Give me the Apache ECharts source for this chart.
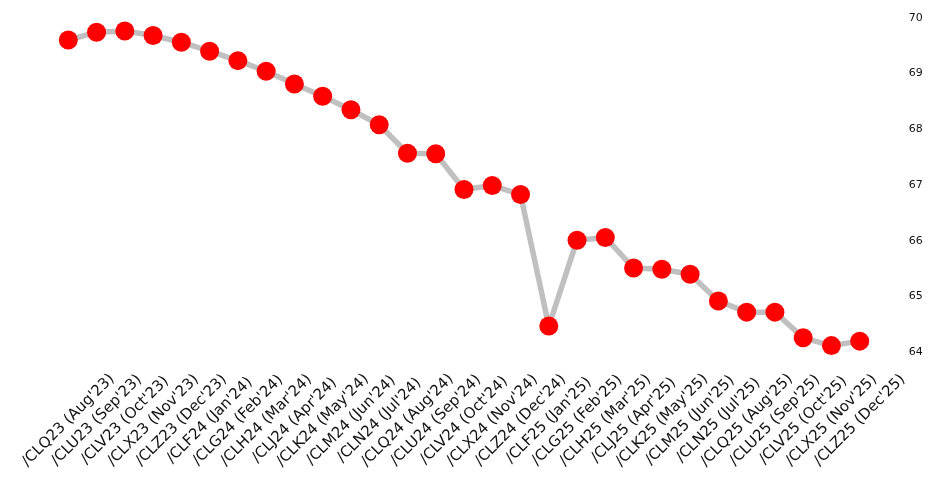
<!DOCTYPE html>
<html>
<head>
<meta charset="utf-8">
<script src="https://cdn.jsdelivr.net/npm/echarts@6/dist/echarts.min.js"></script>
<style>
html,body{margin:0;padding:0;background:#fff;}
#chart{width:933px;height:481px;}
</style>
</head>
<body>
<div id="chart"></div>
<script>
const categories = [
  "/CLQ23 (Aug'23)", "/CLU23 (Sep'23)", "/CLV23 (Oct'23)", "/CLX23 (Nov'23)", "/CLZ23 (Dec'23)",
  "/CLF24 (Jan'24)", "/CLG24 (Feb'24)", "/CLH24 (Mar'24)", "/CLJ24 (Apr'24)", "/CLK24 (May'24)",
  "/CLM24 (Jun'24)", "/CLN24 (Jul'24)", "/CLQ24 (Aug'24)", "/CLU24 (Sep'24)", "/CLV24 (Oct'24)",
  "/CLX24 (Nov'24)", "/CLZ24 (Dec'24)", "/CLF25 (Jan'25)", "/CLG25 (Feb'25)", "/CLH25 (Mar'25)",
  "/CLJ25 (Apr'25)", "/CLK25 (May'25)", "/CLM25 (Jun'25)", "/CLN25 (Jul'25)", "/CLQ25 (Aug'25)",
  "/CLU25 (Sep'25)", "/CLV25 (Oct'25)", "/CLX25 (Nov'25)", "/CLZ25 (Dec'25)"
];
const prices = [
  69.60, 69.74, 69.76, 69.68, 69.56,
  69.40, 69.23, 69.04, 68.81, 68.59,
  68.35, 68.08, 67.57, 67.56, 66.92,
  66.99, 66.83, 64.47, 66.01, 66.06,
  65.51, 65.49, 65.40, 64.92, 64.72,
  64.72, 64.26, 64.12, 64.20
];
const yMin = 64, yMax = 70, yStep = 1;

const chart = echarts.init(document.getElementById('chart'));
chart.setOption({
  animation: false,
  backgroundColor: '#ffffff',
  grid: { left: 68.3, right: 73.3, top: 17.7, bottom: 128.7, containLabel: false },
  xAxis: {
    type: 'category',
    data: categories,
    boundaryGap: false,
    axisLine: { show: false },
    axisTick: { show: false },
    splitLine: { show: false },
    axisLabel: {
      interval: 0,
      rotate: 45,
      align: 'center',
      verticalAlign: 'middle',
      margin: 68,
      hideOverlap: false,
      fontFamily: 'DejaVu Sans',
      fontSize: 15,
      color: '#111'
    }
  },
  yAxis: {
    type: 'value',
    position: 'right',
    min: yMin,
    max: yMax,
    interval: yStep,
    axisLine: { show: false },
    axisTick: { show: false },
    splitLine: { show: false },
    axisLabel: {
      margin: 49,
      align: 'left',
      fontFamily: 'DejaVu Sans',
      fontSize: 11,
      color: '#111'
    }
  },
  series: [{
    type: 'line',
    data: prices,
    clip: false,
    symbol: 'circle',
    symbolSize: 19,
    lineStyle: { color: '#c0c0c0', width: 5.5 },
    itemStyle: { color: '#ff0000', borderWidth: 0 },
    z: 2
  }]
});
</script>
</body>
</html>
